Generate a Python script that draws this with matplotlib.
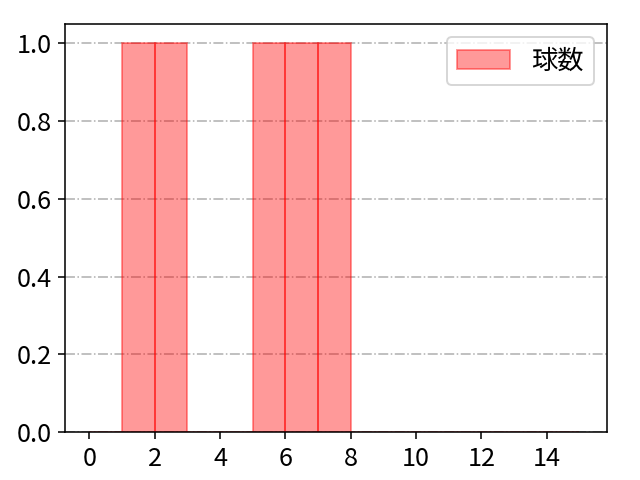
import matplotlib
matplotlib.use("Agg")
import matplotlib.pyplot as plt

plt.rcParams['font.family'] = ['Noto Sans CJK JP', 'DejaVu Sans']

# observed values (one per bin hit)
values = [1, 2, 5, 6, 7]
bin_edges = list(range(0, 16))
label = "球数"

dpi = 140
fig = plt.figure(figsize=(640 / dpi, 480 / dpi), dpi=dpi)
ax = fig.add_axes([65 / 640, 1 - 432 / 480, (607 - 65) / 640, (432 - 24) / 480])

ax.hist(values, bins=bin_edges, color='red', alpha=0.4, edgecolor='red', linewidth=1, label=label)
ax.grid(True, axis='y', linestyle='-.', color='#b0b0b0')
ax.set_axisbelow(True)
ax.set_xlim(-0.75, 15.85)
ax.set_xticks(range(0, 16, 2))
ax.set_yticks([0.0, 0.2, 0.4, 0.6, 0.8, 1.0])
ax.set_yticklabels(["0.0", "0.2", "0.4", "0.6", "0.8", "1.0"])
ax.tick_params(labelsize=13)
ax.legend(loc='upper right', fontsize=13.5)

fig.savefig("out.png", dpi=dpi)
